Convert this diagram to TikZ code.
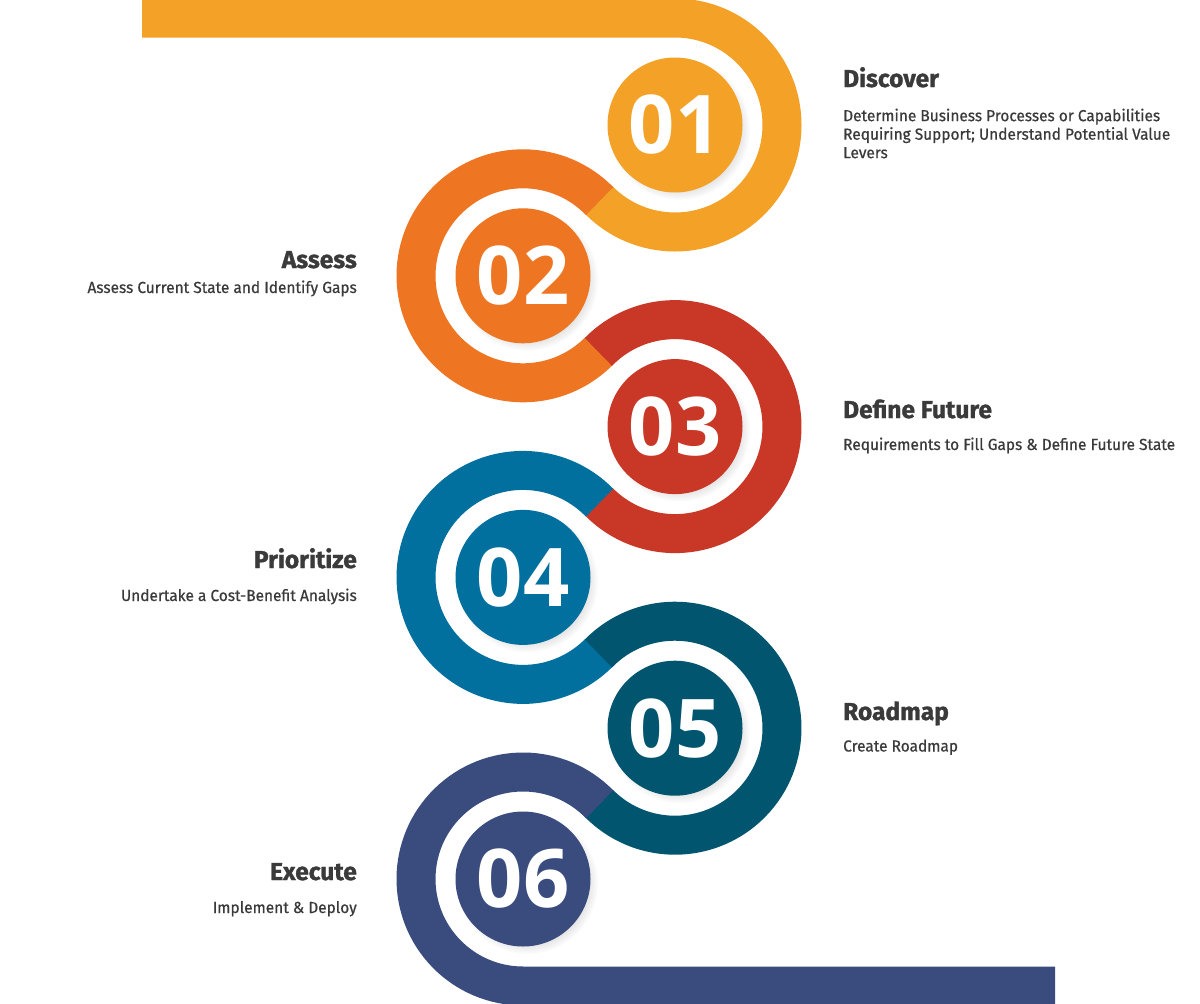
\documentclass[tikz,border=0pt]{standalone}
\usepackage{fontspec}
\setmainfont{Fira Sans}
\newfontfamily\numfont{Open Sans}
\newfontfamily\titlefont{Fira Sans}[FakeBold=1.2]
\newfontfamily\descfont{Fira Sans}[FakeStretch=0.965, FakeBold=0.6]
\usetikzlibrary{calc,shadows}
\definecolor{cA}{HTML}{F3A127}
\definecolor{cB}{HTML}{EE7623}
\definecolor{cC}{HTML}{C93726}
\definecolor{cD}{HTML}{01709E}
\definecolor{cE}{HTML}{02556F}
\definecolor{cF}{HTML}{3A4C7E}
\definecolor{txt}{HTML}{3A3A3A}
\begin{document}
\begin{tikzpicture}[x=1pt,y=1pt,
  band/.style={line width=39pt, line cap=butt},
  numdisc/.style={circle, fill=#1, minimum size=135pt, inner sep=0pt, text=white,
    font=\numfont\bfseries\fontsize{81}{81}\selectfont,
    circular drop shadow={shadow scale=1.05, shadow xshift=4pt, shadow yshift=-4pt, opacity=0.22}},
  title/.style={inner sep=0pt, text=txt, font=\titlefont\bfseries\fontsize{24.5}{28}\selectfont},
  desc/.style={inner sep=0pt, text=txt, font=\descfont\fontsize{16}{18.5}\selectfont}]
\useasboundingbox (0,0) rectangle (1200,-1004);
\fill[white] (0,0) rectangle (1200,-1004);
\def\R{107}
\coordinate (c1) at (675,-125);
\coordinate (c2) at (523,-275.8);
\coordinate (c3) at (675,-426.6);
\coordinate (c4) at (523,-577.4);
\coordinate (c5) at (675,-728.2);
\coordinate (c6) at (523,-879);
\coordinate (s) at (142,-18);
\coordinate (e) at (1055,-986);
% ribbon
\draw[band, cA] (s) -- ($(c1)+(90:\R)$) arc[start angle=90, end angle=-135.2, radius=\R];
\draw[band, cB] ($(c2)+(44.3:\R)$) arc[start angle=44.3, end angle=315.2, radius=\R];
\draw[band, cC] ($(c3)+(135.7:\R)$) arc[start angle=135.7, end angle=-135.2, radius=\R];
\draw[band, cD] ($(c4)+(44.3:\R)$) arc[start angle=44.3, end angle=315.2, radius=\R];
\draw[band, cE] ($(c5)+(135.7:\R)$) arc[start angle=135.7, end angle=-135.2, radius=\R];
\draw[band, cF] ($(c6)+(44.3:\R)$) arc[start angle=44.3, end angle=270, radius=\R] -- (e);
% discs
\node[numdisc=cA] (n1) at (c1) {01};
\node[numdisc=cB] (n2) at (c2) {02};
\node[numdisc=cC] (n3) at (c3) {03};
\node[numdisc=cD] (n4) at (c4) {04};
\node[numdisc=cE] (n5) at (c5) {05};
\node[numdisc=cF] (n6) at (c6) {06};
% texts
\node[title, anchor=base west] (t1) at (843,-87) {Discover};
\node[desc, anchor=north west, align=left] (d1) at (843,-108.5) {Determine Business Processes or Capabilities\\Requiring Support; Understand Potential Value\\Levers};
\node[title, anchor=base east] (t2) at (357,-268) {Assess};
\node[desc, anchor=base east] (d2) at (357,-293) {Assess Current State and Identify Gaps};
\node[title, anchor=base west] (t3) at (843,-418) {Define Future};
\node[desc, anchor=base west] (d3) at (843,-450) {Requirements to Fill Gaps \& Define Future State};
\node[title, anchor=base east] (t4) at (357,-568) {Prioritize};
\node[desc, anchor=base east] (d4) at (357,-601) {Undertake a Cost-Benefit Analysis};
\node[title, anchor=base west] (t5) at (843,-720) {Roadmap};
\node[desc, anchor=base west] (d5) at (843,-751.5) {Create Roadmap};
\node[title, anchor=base east] (t6) at (357,-880) {Execute};
\node[desc, anchor=base east] (d6) at (357,-913) {Implement \& Deploy};
\end{tikzpicture}
\end{document}
